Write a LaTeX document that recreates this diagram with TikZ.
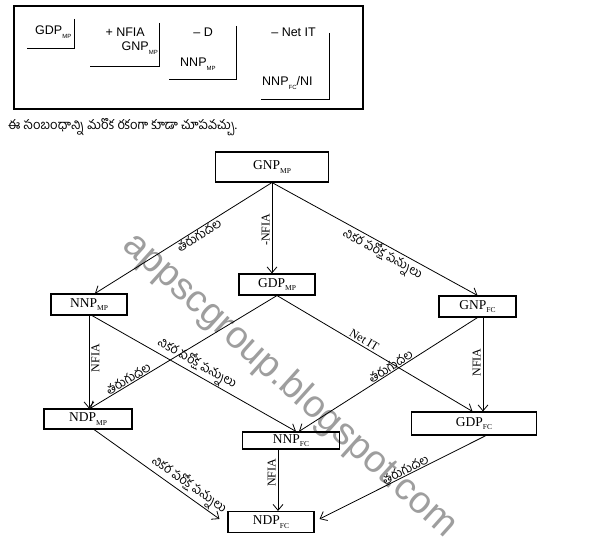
\documentclass[tikz,border=0pt]{standalone}
\usepackage{fontspec}
\setmainfont{Liberation Serif}
\newfontfamily\sansf{Liberation Sans}
\newfontfamily\telf[Script=Telugu]{Hind Guntur}
\usetikzlibrary{arrows.meta}
\newcommand{\sbs}[1]{\raisebox{-0.55ex}{\fontsize{7.5}{7.5}\selectfont #1}}
\newcommand{\ssbs}[1]{\raisebox{-0.6ex}{\fontsize{6}{6}\selectfont #1}}
\begin{document}
\begin{tikzpicture}[x=1pt,y=-1pt,
  box/.style={draw, line width=1.1pt, inner sep=0pt, font=\fontsize{13.5}{15}\selectfont},
  conn/.style={line width=0.8pt, -{Straight Barb[length=6pt,width=10pt]}},
  lbl/.style={font=\fontsize{12}{14}\selectfont, sloped, inner sep=2pt},
  vlbl/.style={font=\fontsize{12}{14}\selectfont, rotate=90, inner sep=2pt},
  tlbl/.style={font=\telf\fontsize{12.5}{13}\selectfont, sloped, inner sep=0.5pt},
  tb/.style={font=\sansf\fontsize{12.5}{15}\selectfont, inner sep=0pt},
  brk/.style={line width=1pt},
  wmark/.style={font=\sansf\fontsize{38}{40}\selectfont, text=black!38, inner sep=0pt}
]
\useasboundingbox (0,0) rectangle (590,537);
\fill[white] (0,0) rectangle (590,537);

% watermark
\node[wmark, rotate=-42] (wm) at (290,386) {appscgroup.blogspot.com};

% top box
\draw[line width=1.2pt] (14,6) rectangle (363,109);
\node[tb, anchor=west] (t1) at (35,32) {GDP\ssbs{MP}};
\draw[brk] (74,19) -- (74,49) -- (27,49);
\node[tb, anchor=east] (t2) at (145,32) {+ NFIA};
\node[tb, anchor=east] (t3) at (158,48) {GNP\ssbs{MP}};
\draw[brk] (159,23) -- (159,67) -- (90,67);
\node[tb, anchor=east] (t4) at (213,32) {– D};
\node[tb, anchor=west] (t5) at (180,64) {NNP\ssbs{MP}};
\draw[brk] (236,26) -- (236,80) -- (169,80);
\node[tb, anchor=east] (t6) at (316,32) {– Net IT};
\node[tb, anchor=west] (t7) at (262,83) {NNP\ssbs{FC}/NI};
\draw[brk] (329,33) -- (329,100) -- (261,100);

% caption
\node[font=\telf\fontsize{13}{14}\selectfont, anchor=west, inner sep=0pt] (cap) at (8,127) {ఈ సంబంధాన్ని మరొక రకంగా కూడా చూపవచ్చు.};

% boxes
\node[box, minimum width=113pt, minimum height=30pt] (gnpmp) at (272,167) {GNP\sbs{MP}};
\node[box, minimum width=76pt, minimum height=21pt] (gdpmp) at (277,284.5) {GDP\sbs{MP}};
\node[box, minimum width=76pt, minimum height=21pt] (nnpmp) at (89,304.5) {NNP\sbs{MP}};
\node[box, minimum width=77pt, minimum height=21pt] (gnpfc) at (477.5,306.5) {GNP\sbs{FC}};
\node[box, minimum width=88pt, minimum height=20pt] (ndpmp) at (88,419) {NDP\sbs{MP}};
\node[box, minimum width=97pt, minimum height=17pt] (nnpfc) at (291,440.5) {NNP\sbs{FC}};
\node[box, minimum width=125pt, minimum height=23pt] (gdpfc) at (474,423.5) {GDP\sbs{FC}};
\node[box, minimum width=86pt, minimum height=21pt] (ndpfc) at (271,522) {NDP\sbs{FC}};

% connectors
\draw[conn] (gnpmp.south) -- ([xshift=6pt]nnpmp.north) node[tlbl, pos=0.43, below] {తరుగుదల};
\draw[conn] (gnpmp.south) -- (gnpmp.south |- gdpmp.north) node[vlbl, pos=0.52, anchor=south] {-NFIA};
\draw[conn] (gnpmp.south) -- (gnpfc.north) node[tlbl, pos=0.56, below] {నికర పరోక్ష పన్నులు};

\draw[conn] (nnpmp.south) -- (nnpmp.south |- ndpmp.north) node[vlbl, pos=0.46, anchor=north] {NFIA};
\draw[conn] ([xshift=3pt]nnpmp.south) -- ([xshift=5pt]nnpfc.north) node[tlbl, pos=0.49, above] {నికర పరోక్ష పన్నులు};

\draw[conn] (gdpmp.south) -- ([xshift=2pt]ndpmp.north) node[tlbl, pos=0.78, above] {తరుగుదల};
\draw[conn] (gdpmp.south) -- ([xshift=-1.5pt]gdpfc.north) node[lbl, pos=0.43, above] {Net IT};

\draw[conn] (gnpfc.south) -- ([xshift=8pt]nnpfc.north) node[tlbl, pos=0.47, above] {తరుగుదల};
\draw[conn] ([xshift=5.5pt]gnpfc.south) -- ([xshift=5.5pt]gnpfc.south |- gdpfc.north) node[vlbl, pos=0.48, anchor=south] {NFIA};

\draw[conn] ([xshift=6pt]ndpmp.south) -- ([xshift=-8pt,yshift=3pt]ndpfc.west) node[tlbl, pos=0.71, above] {నికర పరోక్ష పన్నులు};
\draw[conn] ([xshift=-13pt]nnpfc.south) -- ([xshift=-13pt]nnpfc.south |- ndpfc.north) node[vlbl, pos=0.38, anchor=south] {NFIA};
\draw[conn] ([xshift=12pt]gdpfc.south) -- ([xshift=5pt,yshift=3pt]ndpfc.east) node[tlbl, pos=0.47, above] {తరుగుదల};
\end{tikzpicture}
\end{document}
